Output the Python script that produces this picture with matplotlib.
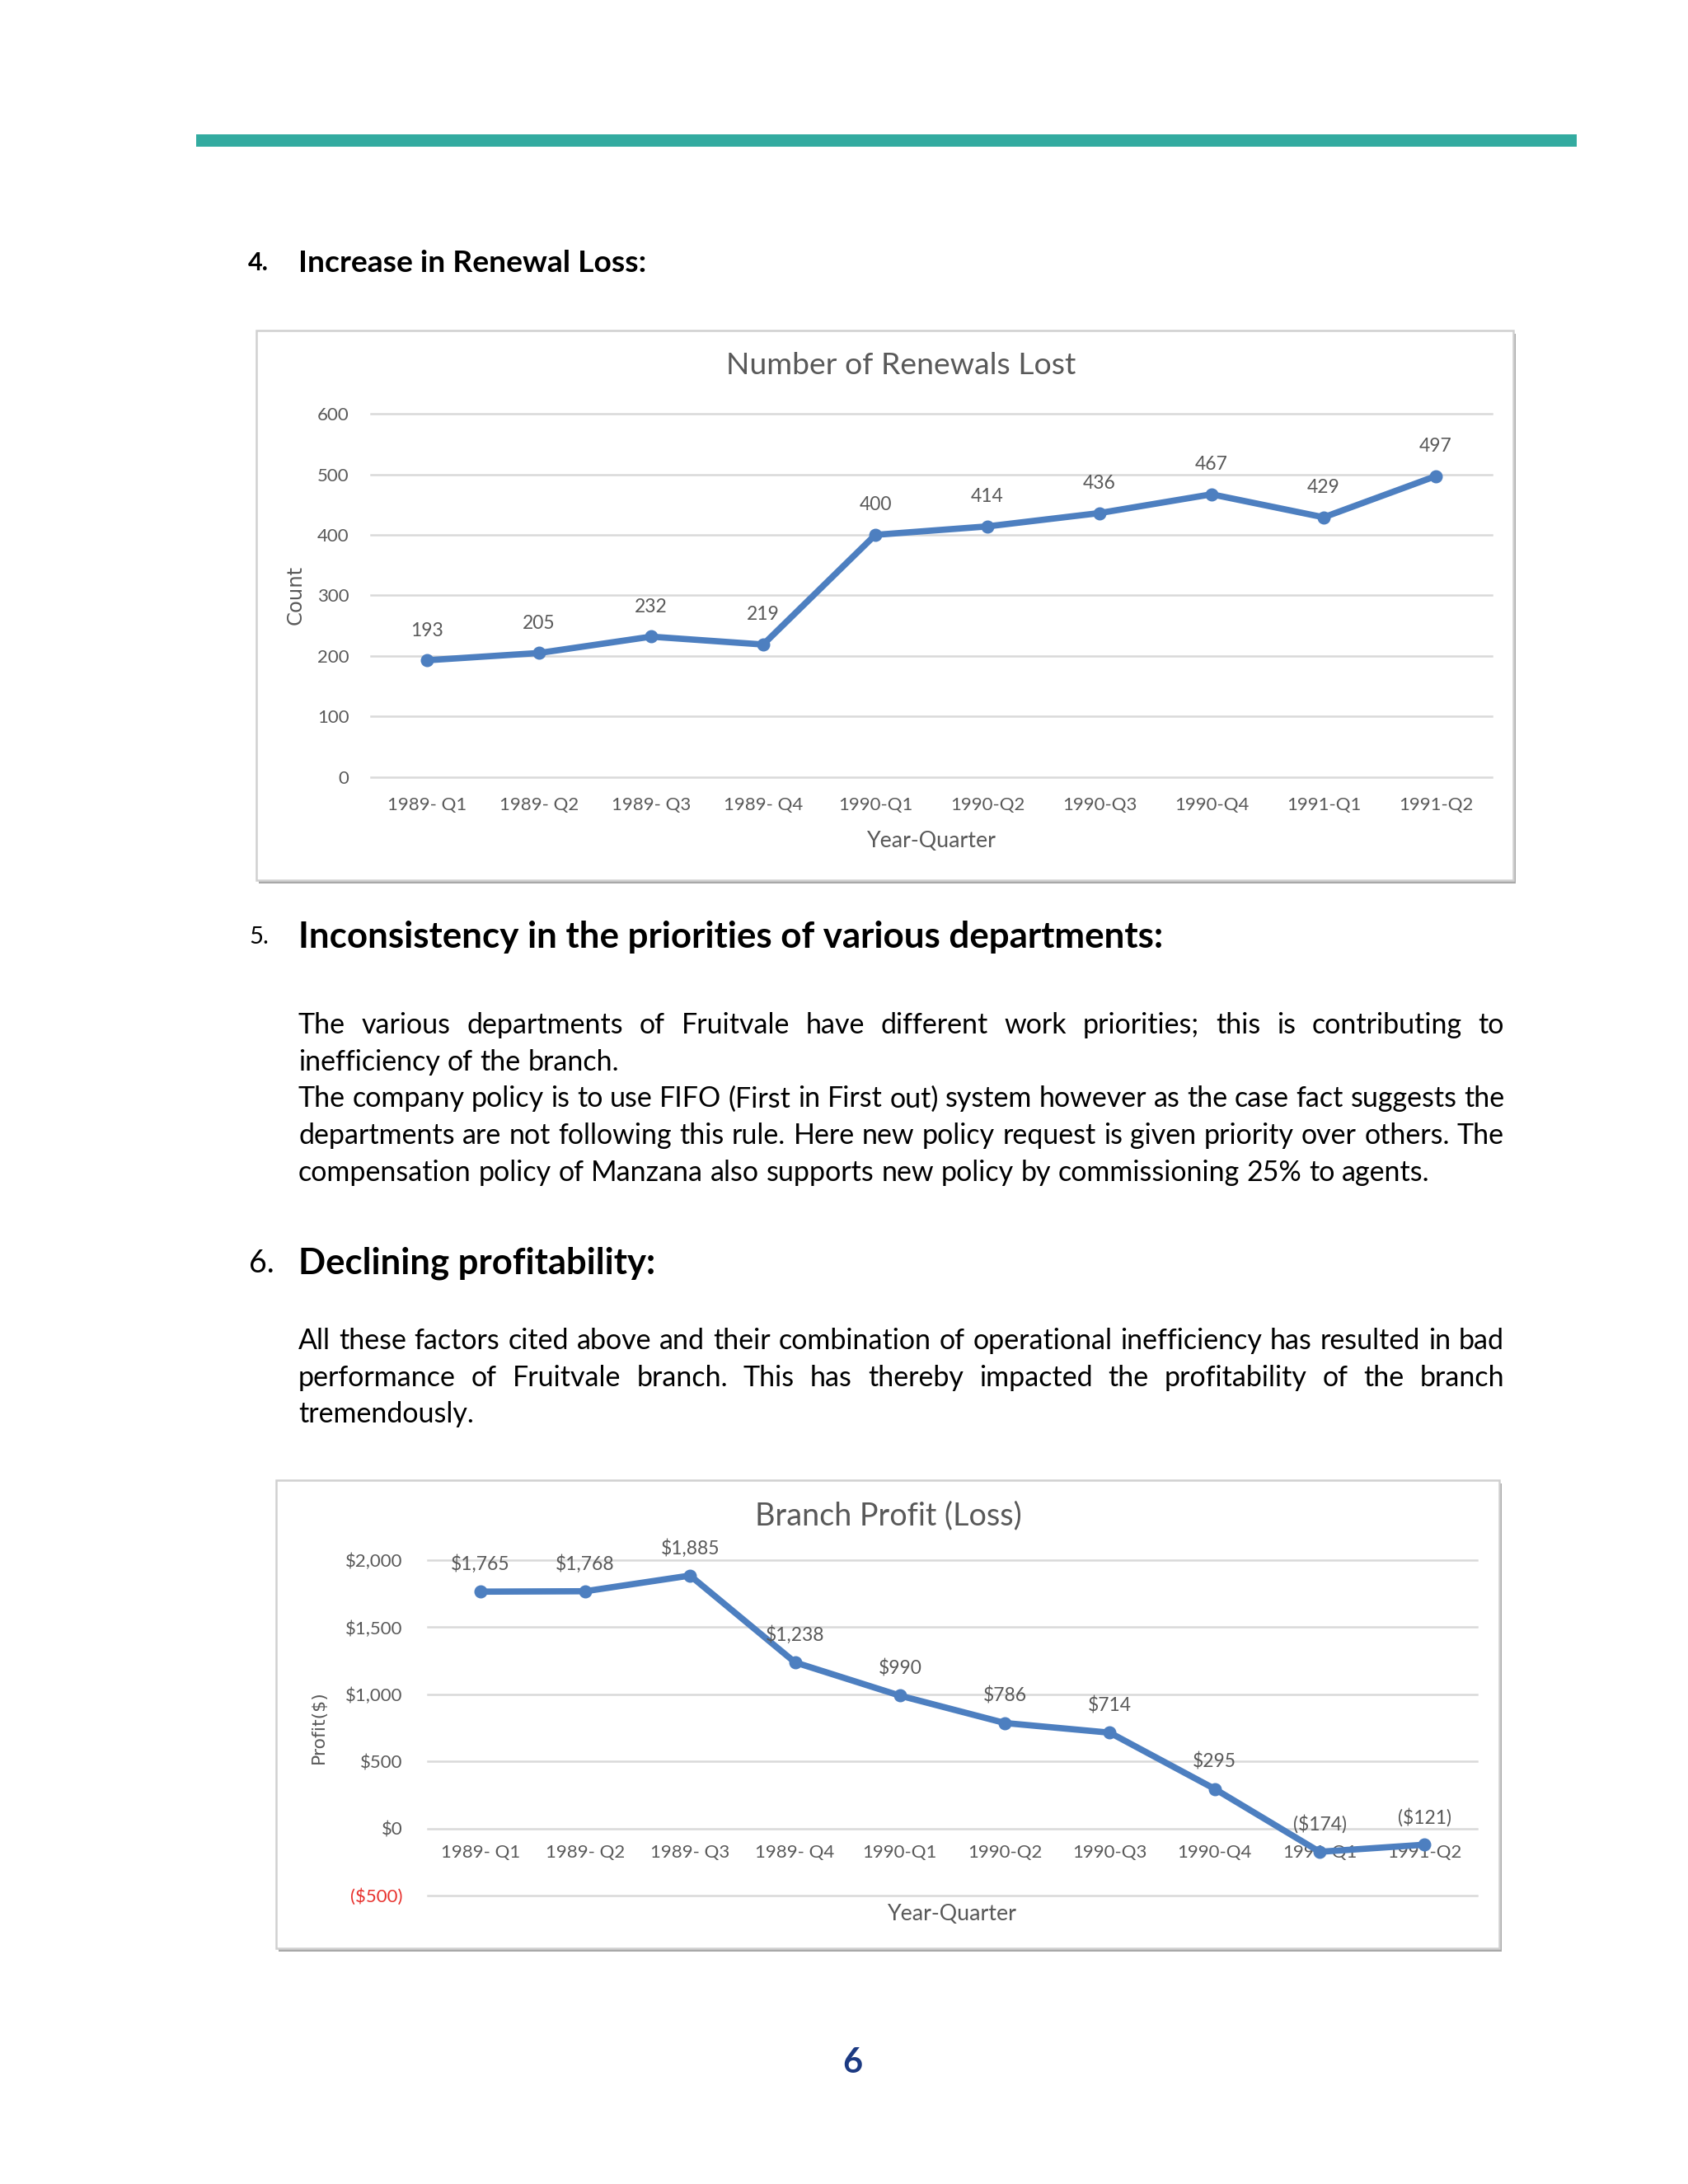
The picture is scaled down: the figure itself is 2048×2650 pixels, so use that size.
import matplotlib
matplotlib.use('Agg')
import matplotlib.pyplot as plt
from matplotlib.patches import Rectangle

plt.rcParams['font.family'] = ['Lato', 'DejaVu Sans']

# data
quarters = ['1989- Q1', '1989- Q2', '1989- Q3', '1989- Q4', '1990-Q1',
            '1990-Q2', '1990-Q3', '1990-Q4', '1991-Q1', '1991-Q2']
renewals_lost = [193, 205, 232, 219, 400, 414, 436, 467, 429, 497]
profit = [1765, 1768, 1885, 1238, 990, 786, 714, 295, -174, -121]
renewal_ticks = [0, 100, 200, 300, 400, 500, 600]
profit_ticks = [-500, 0, 500, 1000, 1500, 2000]

para5 = [
    'The various departments of Fruitvale have different work priorities; this is contributing to',
    'inefficiency of the branch.',
    'The company policy is to use FIFO (First in First out) system however as the case fact suggests the',
    'departments are not following this rule. Here new policy request is given priority over others. The',
    'compensation policy of Manzana also supports new policy by commissioning 25% to agents.',
]
para6 = [
    'All these factors cited above and their combination of operational inefficiency has resulted in bad',
    'performance of Fruitvale branch. This has thereby impacted the profitability of the branch',
    'tremendously.',
]

BLUE = '#4D7FC0'
GRAY = '#595959'
GRID = '#D9D9D9'

W, H = 2048, 2650
fig = plt.figure(figsize=(W / 100, H / 100), dpi=100)
fig.patch.set_facecolor('white')
page = fig.add_axes([0, 0, 1, 1])
page.set_xlim(0, W)
page.set_ylim(H, 0)
page.axis('off')
renderer = fig.canvas.get_renderer()


def width(t):
    return t.get_window_extent(renderer).width


def fit(x, y, s, w, rotated=False, **kw):
    # put text and scale the font so it spans w pixels
    t = page.text(x, y, s, fontsize=20, **kw)
    bb = t.get_window_extent(renderer)
    t.set_fontsize(20 * w / (bb.height if rotated else bb.width))
    return t


def px_axes(l, t, r, b):
    return fig.add_axes([l / W, 1 - b / H, (r - l) / W, (b - t) / H])


def frame(l, t, r, b):
    page.add_patch(Rectangle((l + 3, t + 4), r - l, b - t, facecolor='#A8A8A8', edgecolor='none'))
    page.add_patch(Rectangle((l, t), r - l, b - t, facecolor='white', edgecolor='#D0D0D0', lw=1.8))


def paragraph(lines, flags, y0, dy, x0, x1, size):
    probe = page.text(0, 0, 'x x', fontsize=size)
    probe2 = page.text(0, 0, 'xx', fontsize=size)
    space = width(probe) - width(probe2)
    probe.remove()
    probe2.remove()
    for i, line in enumerate(lines):
        y = y0 + i * dy
        words = line.split(' ')
        ts = [page.text(0, y, w, fontsize=size, va='center', color='black') for w in words]
        ws = [width(t) for t in ts]
        gap = (x1 - x0 - sum(ws)) / (len(words) - 1) if flags[i] else space
        x = x0
        for t, w in zip(ts, ws):
            t.set_x(x)
            x += w + gap


# header bar
page.add_patch(Rectangle((238, 163), 1675, 15, facecolor='#33ABA0', edgecolor='none'))

# section 4
page.text(301, 319, '4.', fontsize=22, fontweight='bold', va='center')
fit(362, 319, 'Increase in Renewal Loss:', 423, fontweight='bold', va='center')

# chart 1
frame(311, 401, 1836, 1068)
fit(1093, 444, 'Number of Renewals Lost', 424, ha='center', va='center', color=GRAY)
ax1 = px_axes(450, 502, 1810, 943)
ax1.set_facecolor('none')
xs = list(range(len(quarters)))
for v in renewal_ticks:
    ax1.axhline(v, color=GRID, lw=1.8, zorder=0, clip_on=False)
ax1.plot(xs, renewals_lost, color=BLUE, lw=5.5, marker='o', ms=10.5, zorder=3)
for i, v in zip(xs, renewals_lost):
    ax1.annotate(str(v), (i, v), xytext=(0, 26), textcoords='offset points',
                 ha='center', va='center', fontsize=16.5, color=GRAY)
ax1.set_xlim(-0.5, len(quarters) - 0.5)
ax1.set_ylim(0, 600)
ax1.set_yticks(renewal_ticks)
ax1.set_xticks(xs, quarters)
ax1.tick_params(length=0, labelsize=16, labelcolor=GRAY)
ax1.tick_params(axis='y', pad=19)
ax1.tick_params(axis='x', pad=17)
for sp in ax1.spines.values():
    sp.set_visible(False)
fit(1129, 1021, 'Year-Quarter', 157, ha='center', va='center', color=GRAY)
fit(359, 722, 'Count', 72, rotated=True, rotation=90, ha='center', va='center', color=GRAY,
    family='DejaVu Sans')

# section 5
page.text(302, 1137, '5.', fontsize=21, va='center')
fit(362, 1137, 'Inconsistency in the priorities of various departments:', 1051,
    fontweight='bold', va='center')
probe = page.text(0, 0, para5[4], fontsize=20)
body = 20 * 1375 / width(probe)
probe.remove()
paragraph(para5, [True, False, True, True, False], 1244, 44.7, 362, 1825, body)

# section 6
page.text(302, 1533, '6.', fontsize=27, va='center')
fit(362, 1533, 'Declining profitability:', 433, fontweight='bold', va='center')
paragraph(para6, [True, True, False], 1627, 44.7, 362, 1825, body)

# chart 2
frame(335, 1796, 1819, 2364)
fit(1078, 1839, 'Branch Profit (Loss)', 324, ha='center', va='center', color=GRAY)
ax2 = px_axes(519, 1893, 1792, 2300)
ax2.set_facecolor('none')
for v in profit_ticks:
    ax2.axhline(v, color=GRID, lw=1.8, zorder=0, clip_on=False)
ax2.plot(xs, profit, color=BLUE, lw=5.5, marker='o', ms=10.5, zorder=3)


def money(v):
    return f'(${abs(v):,})' if v < 0 else f'${v:,}'


for i, v in zip(xs, profit):
    ax2.annotate(money(v), (i, v), xytext=(0, 24), textcoords='offset points',
                 ha='center', va='center', fontsize=16.5, color=GRAY, zorder=4)
for i, q in zip(xs, quarters):
    ax2.annotate(q, (i, 0), xytext=(0, -21.5), textcoords='offset points',
                 ha='center', va='center', fontsize=16, color=GRAY, zorder=2)
ax2.set_xlim(-0.5, len(quarters) - 0.5)
ax2.set_ylim(-500, 2000)
ax2.set_xticks([])
ax2.set_yticks(profit_ticks, [money(v) for v in profit_ticks])
ax2.tick_params(length=0, labelsize=16, labelcolor=GRAY, pad=22)
for lab, v in zip(ax2.get_yticklabels(), profit_ticks):
    if v < 0:
        lab.set_color('#E8322E')
for sp in ax2.spines.values():
    sp.set_visible(False)
fit(1154, 2322, 'Year-Quarter', 157, ha='center', va='center', color=GRAY)
fit(387, 2096, 'Profit($)', 88, rotated=True, rotation=90, ha='center', va='center', color=GRAY,
    family='DejaVu Sans')

# page number
page.text(1034, 2515, '6', fontsize=30, fontweight='bold', color='#1C3A82', ha='center', va='baseline')

fig.savefig('out.png', dpi=100)
